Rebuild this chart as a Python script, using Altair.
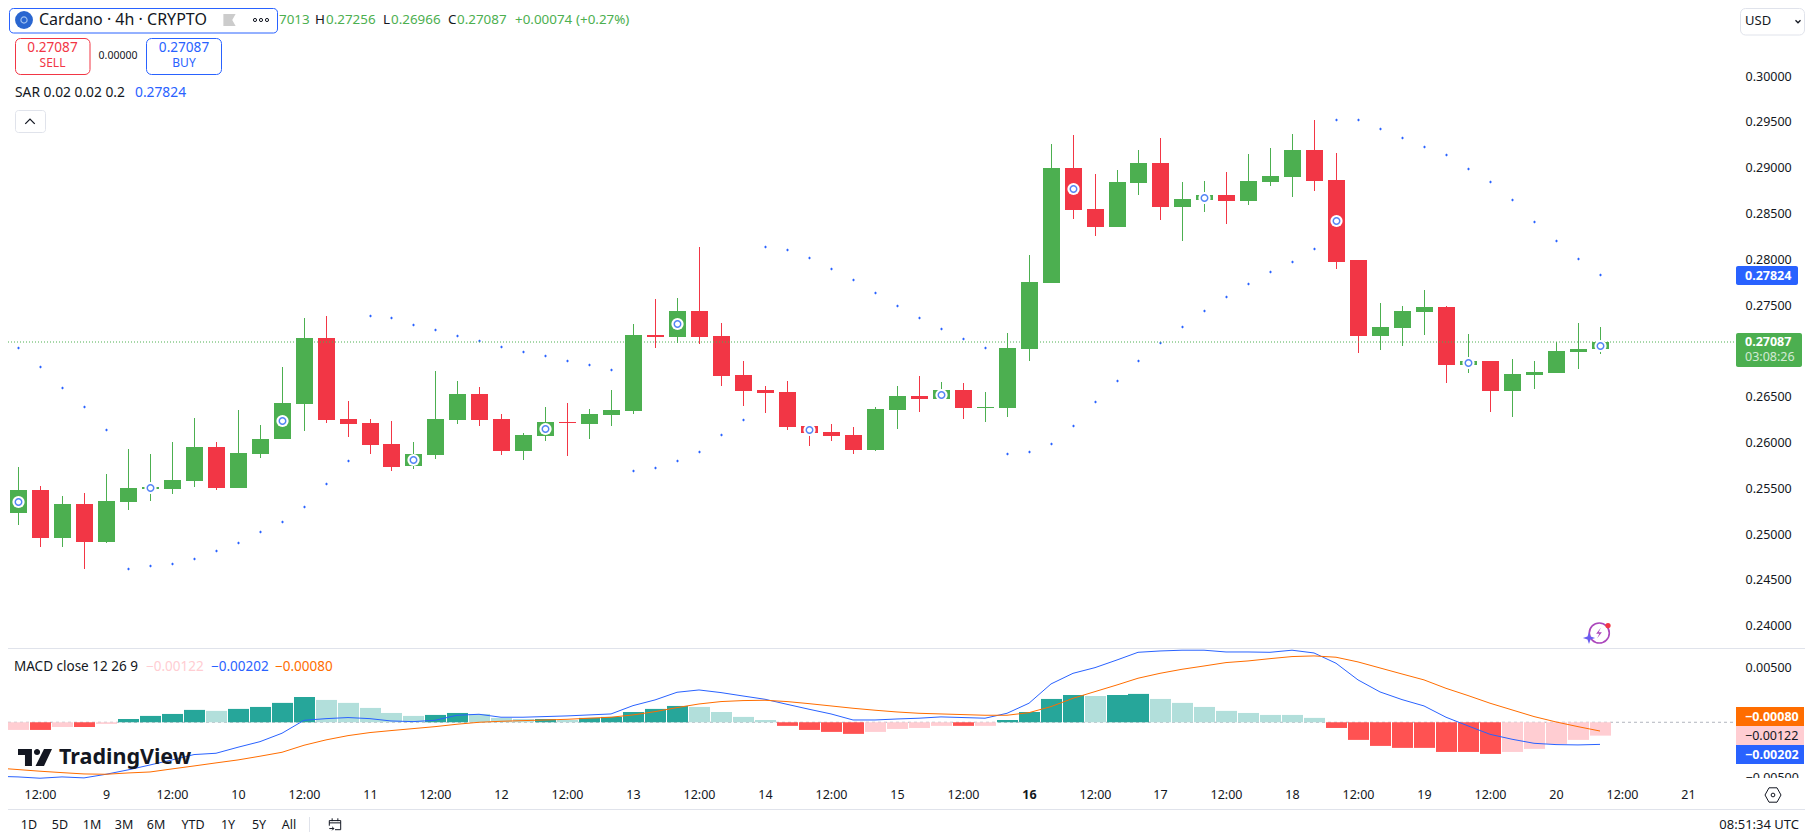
import json
import altair as alt
import pandas as pd

FONT = "Noto Sans"
INK = "#131722"
GREEN = "#4caf50"
RED = "#f23645"
BLUE = "#2962ff"
ORANGE = "#ff6d00"
LINE = "#e0e3eb"

opens = [.25224,.25476,.24952,.25323,.24908,.25345,.25487,.25487,.25574,.25945,.25498,.25869,.26033,.26414,.27135,.26251,.26207,.25978,.25738,.25858,.26240,.26524,.26251,.25901,.26065,.26218,.26196,.26294,.26338,.27168,.27146,.27430,.27157,.26731,.26567,.26545,.26174,.26109,.26076,.25912,.26349,.26502,.26469,.26567,.26371,.26371,.27014,.27735,.28991,.28543,.28347,.28827,.29045,.28565,.28642,.28696,.28631,.28838,.28893,.29187,.28860,.27987,.27157,.27244,.27419,.27473,.26840,.26884,.26556,.26731,.26753,.26982,.27013]
highs = [.25727,.25519,.25410,.25443,.25650,.25923,.25869,.26000,.26262,.26000,.26349,.26185,.26818,.27353,.27375,.26447,.26251,.26229,.26000,.26775,.26665,.26600,.26305,.26098,.26382,.26425,.26360,.26567,.27288,.27561,.27572,.28128,.27299,.26884,.26611,.26665,.26185,.26196,.26163,.26382,.26611,.26720,.26655,.26644,.26545,.27189,.28041,.29252,.29351,.28925,.28969,.29187,.29318,.28838,.28849,.28947,.29144,.29209,.29362,.29515,.29155,.27987,.27517,.27484,.27659,.27484,.27178,.26884,.26906,.26884,.27087,.27299,.27256]
lows = [.25093,.24853,.24853,.24613,.24897,.25257,.25356,.25432,.25509,.25476,.25498,.25825,.26033,.26120,.26207,.26054,.25869,.25683,.25705,.25814,.26196,.26174,.25858,.25803,.26011,.25847,.26033,.26174,.26305,.27025,.27080,.27069,.26611,.26393,.26316,.26131,.25956,.26011,.25869,.25901,.26142,.26327,.26469,.26251,.26218,.26272,.26884,.27735,.28434,.28249,.28347,.28696,.28423,.28194,.28510,.28380,.28587,.28794,.28674,.28740,.27888,.26971,.27004,.27047,.27168,.26644,.26753,.26327,.26272,.26578,.26753,.26797,.26966]
closes = [.25476,.24952,.25323,.24908,.25356,.25498,.25505,.25585,.25945,.25498,.25880,.26033,.26425,.27135,.26240,.26196,.25967,.25727,.25869,.26251,.26524,.26240,.25901,.26076,.26218,.26207,.26305,.26349,.27168,.27146,.27430,.27146,.26720,.26556,.26534,.26163,.26098,.26065,.25912,.26360,.26502,.26469,.26567,.26371,.26382,.27025,.27746,.28991,.28532,.28347,.28838,.29045,.28565,.28653,.28696,.28631,.28849,.28903,.29187,.28849,.27965,.27157,.27255,.27430,.27473,.26840,.26884,.26556,.26742,.26764,.26993,.27014,.27087]
sar = [.27023,.26818,.26589,.26382,.26131,.24613,.24646,.24668,.24722,.24810,.24897,.25017,.25126,.25290,.25541,.25792,.27375,.27353,.27277,.27222,.27157,.27102,.27037,.26982,.26939,.26884,.26840,.26786,.25683,.25716,.25792,.25890,.26076,.26240,.28128,.28096,.28008,.27888,.27768,.27626,.27484,.27353,.27233,.27124,.27025,.25869,.25890,.25978,.26174,.26436,.26665,.26884,.27080,.27255,.27430,.27583,.27725,.27856,.27965,.28107,.29515,.29515,.29417,.29318,.29220,.29133,.28980,.28838,.28642,.28401,.28194,.27997,.27824]
marker_idx = [0, 6, 12, 18, 24, 30, 36, 42, 48, 54, 60, 66, 72]
last_price = 0.27087
price_ticks = [.30, .295, .29, .285, .28, .275, .265, .26, .255, .25, .245, .24]

hist = [-.00070,-.00070,-.00043,-.00043,-.00015,.00030,.00058,.00076,.00113,.00104,.00122,.00140,.00177,.00231,.00204,.00177,.00131,.00085,.00058,.00067,.00085,.00076,.00040,.00030,.00030,.00021,.00040,.00049,.00094,.00122,.00149,.00140,.00094,.00049,.00021,-.00033,-.00070,-.00088,-.00106,-.00088,-.00061,-.00052,-.00033,-.00033,-.00033,.00021,.00094,.00213,.00249,.00240,.00249,.00259,.00213,.00177,.00140,.00104,.00085,.00067,.00067,.00040,-.00052,-.00161,-.00216,-.00234,-.00234,-.00271,-.00271,-.00289,-.00271,-.00243,-.00198,-.00161,-.00122]
hist_tone = list("PRPRPTTTTLTTTTLLLLLTTLLLTLTTTTTLLLLRRRRPPPPRPTTTTLTTLLLLLLLLRRRRRRRRPPPPP")
macd_line = [-.00499,-.00511,-.00499,-.00508,-.00475,-.00435,-.00390,-.00344,-.00295,-.00283,-.00228,-.00177,-.00100,.00018,.00033,.00043,.00033,.00012,.00006,.00018,.00064,.00073,.00046,.00046,.00052,.00058,.00067,.00076,.00152,.00204,.00274,.00295,.00271,.00240,.00210,.00164,.00119,.00076,.00021,.00021,.00030,.00037,.00049,.00043,.00037,.00082,.00174,.00350,.00447,.00499,.00569,.00639,.00651,.00658,.00658,.00642,.00642,.00639,.00658,.00633,.00539,.00387,.00277,.00207,.00149,.00046,-.00033,-.00110,-.00155,-.00192,-.00204,-.00207,-.00202]
signal_line = [-.00432,-.00447,-.00460,-.00472,-.00475,-.00463,-.00454,-.00426,-.00399,-.00371,-.00344,-.00310,-.00274,-.00210,-.00161,-.00122,-.00094,-.00076,-.00058,-.00040,-.00018,0,.00009,.00015,.00021,.00027,.00037,.00046,.00067,.00097,.00134,.00167,.00189,.00198,.00201,.00189,.00170,.00149,.00128,.00110,.00094,.00082,.00076,.00070,.00064,.00064,.00088,.00143,.00219,.00280,.00341,.00402,.00447,.00484,.00514,.00545,.00560,.00581,.00600,.00606,.00594,.00551,.00496,.00441,.00387,.00310,.00244,.00174,.00113,.00052,.00003,-.00040,-.00080]
macd_lead = -.00493     # the candle just left of the first one
signal_lead = -.00417
macd_ticks = [0.005, -0.005]

time_tick_idx = list(range(1, 77, 3))
time_tick_labels = ["12:00","9","12:00","10","12:00","11","12:00","12","12:00","13","12:00","14","12:00","15","12:00","16","12:00","17","12:00","18","12:00","19","12:00","20","12:00","21"]

df = pd.DataFrame({"i": list(range(len(closes))), "open": opens, "high": highs, "low": lows, "close": closes, "sar": sar,
                   "hist": hist, "tone": hist_tone})
df["dir"] = ["up" if c >= o else "down" for o, c in zip(opens, closes)]
df["mid"] = (df["open"] + df["close"]) / 2
markers = df[df["i"].isin(marker_idx)]
lines = pd.DataFrame({"i": list(range(-1, len(closes))), "macd": [macd_lead] + macd_line, "signal": [signal_lead] + signal_line})

W, H = 1797, 824           # whole canvas, page margin 8
PLOT_R, TIME_Y = 1728, 770  # right edge of the plot, top of the time axis (canvas px)
CANDLE = 21.97              # px per candle
PX_PRICE, PX_MACD = 9160.0, 10950.0
x_scale = alt.Scale(domain=[-10 / CANDLE, (W - 10) / CANDLE], round=True, nice=False, zero=False, padding=0)
y_a = alt.Scale(domain=[.30738 - H / PX_PRICE, .30738], round=True, nice=False, zero=False)
y_b = alt.Scale(domain=[.06523 - H / PX_MACD, .06523], nice=False, zero=False)
X = alt.X("i:Q", scale=x_scale, axis=alt.Axis(
    values=time_tick_idx, labelExpr=json.dumps(time_tick_labels) + "[(datum.value-1)/3]", offset=TIME_Y - H,
    grid=False, domain=False, ticks=False, labelPadding=10, labelFont=FONT, labelFontSize=12.5, labelColor=INK,
    labelOverlap=False, title=None, labelFontWeight=alt.condition("datum.value == 46", alt.value("bold"), alt.value("normal"))))
dir_color = alt.Color("dir:N", scale=alt.Scale(domain=["up", "down"], range=[GREEN, RED]), legend=None)
axis_a = alt.Axis(values=price_ticks, orient="right", format=".5f", grid=False, domain=False, ticks=False, offset=PLOT_R - W,
                  labelPadding=9, labelFont=FONT, labelFontSize=12.5, labelColor=INK, labelOverlap=False, title=None)
axis_b = alt.Axis(values=macd_ticks, orient="right", format=".5f", grid=False, domain=False, ticks=False, offset=PLOT_R - W,
                  labelPadding=9, labelFont=FONT, labelFontSize=12.5, labelColor=INK, labelOverlap=False, title=None)
one = alt.InlineData(values=[{"k": 1}])
OFF = 8
def ax(v): return v - OFF
def ay(v): return v - OFF


def label(text, x, y, color=INK, size=13, align="left", weight="normal", opacity=1.0):
    return alt.Chart(one).mark_text(font=FONT, fontSize=size, align=align, baseline="middle", color=color,
                                    fontWeight=weight, opacity=opacity).encode(
        x=alt.value(ax(x)), y=alt.value(ay(y)), text=alt.value(text))


def box(x, y, x2, y2, fill="transparent", stroke=None, radius=0, sw=1):
    kw = {"fill": fill, "cornerRadius": radius}
    if stroke:
        kw.update(stroke=stroke, strokeWidth=sw)
    return alt.Chart(one).mark_rect(**kw).encode(
        x=alt.value(ax(x)), x2=alt.value(ax(x2)), y=alt.value(ay(y)), y2=alt.value(ay(y2)))


def icon(shape, x, y, size, fill=None, stroke=None, sw=1.0):
    kw = {"shape": shape, "size": size, "opacity": 1}
    kw.update(filled=True, fill=fill) if fill else kw.update(filled=False)
    if stroke:
        kw.update(stroke=stroke, strokeWidth=sw)
    return alt.Chart(one).mark_point(**kw).encode(x=alt.value(ax(x)), y=alt.value(ay(y)))


base = alt.Chart(df)
wicks = base.mark_rule(strokeWidth=1, xOffset=0.5).encode(
    x=X, y=alt.Y("low:Q", scale=y_a, axis=axis_a), y2="high:Q", color=dir_color)
bodies = base.mark_bar(size=17, xOffset=0.5, orient="vertical").encode(
    x=X, y=alt.Y("open:Q", scale=y_a, axis=axis_a), y2="close:Q", color=dir_color)
sar_pts = base.mark_point(shape="cross", filled=True, size=7, color=BLUE, opacity=1, xOffset=0.5).encode(
    x=X, y=alt.Y("sar:Q", scale=y_a, axis=axis_a))
price_line = alt.Chart(pd.DataFrame({"p": [last_price]})).mark_rule(
    color=GREEN, strokeWidth=1, strokeDash=[1, 2]).encode(
    x=alt.value(0), x2=alt.value(PLOT_R), y=alt.Y("p:Q", scale=y_a, axis=axis_a))
disc = alt.Chart(markers).mark_point(shape="circle", filled=True, color="white", size=150, opacity=1, xOffset=0.5).encode(
    x=X, y=alt.Y("mid:Q", scale=y_a, axis=axis_a))
ring = alt.Chart(markers).mark_point(shape="circle", filled=False, color="#5585f5", size=42, strokeWidth=1.5, opacity=1, xOffset=0.5).encode(
    x=X, y=alt.Y("mid:Q", scale=y_a, axis=axis_a))
price_layer = alt.layer(wicks, bodies, sar_pts, price_line, disc, ring)

tone_color = alt.Color("tone:N", scale=alt.Scale(domain=list("TLRP"), range=["#26a69a", "#b2dfdb", "#ff5252", "#ffcdd2"]), legend=None)
zero = alt.Chart(pd.DataFrame({"z": [0.0]})).mark_rule(color="#b2b5be", strokeWidth=1, strokeDash=[3, 3]).encode(
    x=alt.value(0), x2=alt.value(PLOT_R), y=alt.Y("z:Q", scale=y_b, axis=axis_b))
bars = base.mark_bar(size=21, xOffset=0.5, orient="vertical").encode(
    x=X, y=alt.Y("hist:Q", scale=y_b, axis=axis_b, stack=None), color=tone_color)
macd_l = alt.Chart(lines).mark_line(color=BLUE, strokeWidth=1, clip=True).encode(x=X, y=alt.Y("macd:Q", scale=y_b, axis=axis_b))
sig_l = alt.Chart(lines).mark_line(color=ORANGE, strokeWidth=1, clip=True).encode(x=X, y=alt.Y("signal:Q", scale=y_b, axis=axis_b))
macd_layer = alt.layer(zero, bars, macd_l, sig_l)

flag = "M -1 -1 H 1 L .45 0 L 1 1 H -1 Z"
tv_logo = ("M -1 -.5 H -.18 V .5 H -.59 V -.15 H -1 Z "
           "M -.06 -.32 A .18 .18 0 1 1 .30 -.32 A .18 .18 0 1 1 -.06 -.32 Z "
           "M .53 -.5 H 1 L .53 .5 H .03 Z")
chev_up = "M -1 .5 L 0 -.5 L 1 .5"
chev_down = "M -1 -.5 L 0 .5 L 1 -.5"
bolt = "M .35 -1 L -.55 .15 H .05 L -.35 1 L .55 -.15 H -.05 Z"
star = "M 0 -1 L .25 -.25 L 1 0 L .25 .25 L 0 1 L -.25 .25 L -1 0 L -.25 -.25 Z"
hexagon = "M -.5 -.9 H .5 L 1 0 L .5 .9 H -.5 L -1 0 Z"
calendar = "M -1 -.6 H 1 V 1 H 0 M -1 -.6 V .3 M -1 -.2 H 1 M -.5 -1 V -.5 M .5 -1 V -.5 M -1 .8 H -.2 M -.5 .5 L -.2 .8 L -.5 1.1"

decor = [
    box(9.5, 8.5, 277.5, 33, fill="white", stroke=BLUE, radius=4),
    icon("circle", 24, 20, 320, fill="#2a66d0"),
    icon("circle", 24, 20, 38, stroke="#9fc0f0", sw=1.2),
    label("Cardano · 4h · CRYPTO", 39, 20, size=16),
    icon(flag, 229.5, 20, 150, fill="#cccccc"),
    icon("circle", 255, 20, 10, stroke=INK),
    icon("circle", 261, 20, 10, stroke=INK),
    icon("circle", 267, 20, 10, stroke=INK),
    label("7013", 279, 20, color=GREEN, size=13.4),
    label("H", 315, 20, size=13.4),
    label("0.27256", 326, 20, color=GREEN, size=13.4),
    label("L", 383, 20, size=13.4),
    label("0.26966", 391, 20, color=GREEN, size=13.4),
    label("C", 448, 20, size=13.4),
    label("0.27087", 457, 20, color=GREEN, size=13.4),
    label("+0.00074", 515, 20, color=GREEN, size=13.4),
    label("(+0.27%)", 576, 20, color=GREEN, size=13.4),
    box(15.5, 38.5, 90, 74.5, fill="white", stroke=RED, radius=5),
    label("0.27087", 52.5, 48, color=RED, size=13.6, align="center"),
    label("SELL", 52.5, 63, color=RED, size=12, align="center"),
    label("0.00000", 118, 56, size=10.5, align="center"),
    box(146.5, 38.5, 221.5, 74.5, fill="white", stroke=BLUE, radius=5),
    label("0.27087", 184, 48, color=BLUE, size=13.6, align="center"),
    label("BUY", 184, 63, color=BLUE, size=12, align="center"),
    label("SAR 0.02 0.02 0.2", 15, 93, size=13.8),
    label("0.27824", 135, 93, color=BLUE, size=13.8),
    box(15.5, 110.5, 45.5, 132.5, fill="white", stroke=LINE, radius=3),
    icon(chev_up, 30, 121.5, 90, stroke=INK, sw=1.3),
    box(1740.5, 8.5, 1804.5, 35, fill="white", stroke=LINE, radius=5),
    label("USD", 1745, 21, size=13),
    icon(chev_down, 1798, 21.5, 25, stroke=INK, sw=1.3),
    box(1736, 266, 1798, 285, fill=BLUE, radius=2),
    label("0.27824", 1745, 275.5, color="white", size=12.5, weight="bold"),
    box(1736, 333, 1802, 367, fill=GREEN, radius=2),
    label("0.27087", 1745, 342, color="white", size=12.5, weight="bold"),
    label("03:08:26", 1745, 357, color="white", size=12.5, opacity=0.75),
    icon("circle", 1599.3, 633, 400, stroke="#ab47bc", sw=1.6),
    icon(bolt, 1599, 633, 110, fill="#ab47bc"),
    icon(star, 1589, 638, 150, fill="#6a5cf0"),
    icon("circle", 1608, 625.6, 28, fill=RED),
    box(8, 648, 1805, 649, fill=LINE),
    label("MACD close 12 26 9", 14, 667, size=13.5),
    label("−0.00122", 146, 667, color="#ffcdd2", size=13.5),
    label("−0.00202", 211, 667, color=BLUE, size=13.5),
    label("−0.00080", 275, 667, color=ORANGE, size=13.5),
    icon(tv_logo, 35, 757.5, 1156, fill=INK),
    label("TradingView", 59, 757.5, size=21.5, weight="bold"),
    box(1736, 778, 1804, 790, fill="white"),
    box(1736, 707, 1804, 726, fill=ORANGE),
    label("−0.00080", 1745, 716.7, color="white", size=12.5, weight="bold"),
    box(1736, 726, 1804, 745, fill="#ffcdd2"),
    label("−0.00122", 1745, 736, color=INK, size=12.5),
    box(1736, 745, 1804, 764, fill=BLUE),
    label("−0.00202", 1745, 754.7, color="white", size=12.5, weight="bold"),
    icon(hexagon, 1773, 795, 256, stroke=INK),
    icon("circle", 1773, 795, 14, stroke=INK),
    box(8, 809, 1805, 810, fill=LINE),
]
for t, cx in zip(["1D", "5D", "1M", "3M", "6M", "YTD", "1Y", "5Y", "All"], [29, 60, 92, 124, 156, 193, 228, 259, 289]):
    decor.append(label(t, cx, 825, size=12.5, align="center"))
decor += [
    box(309, 817, 310, 832, fill=LINE),
    icon(calendar, 335, 824, 130, stroke=INK),
    label("08:51:34 UTC", 1799, 825, size=13, align="right"),
]

chart = alt.layer(price_layer, macd_layer, *decor).resolve_scale(y="independent", color="independent").properties(
    width=W, height=H, padding=0, background="white", autosize=alt.AutoSizeParams(type="none")).configure_view(stroke=None)
chart.save("out.html", embed_options={"renderer": "svg", "actions": False})
